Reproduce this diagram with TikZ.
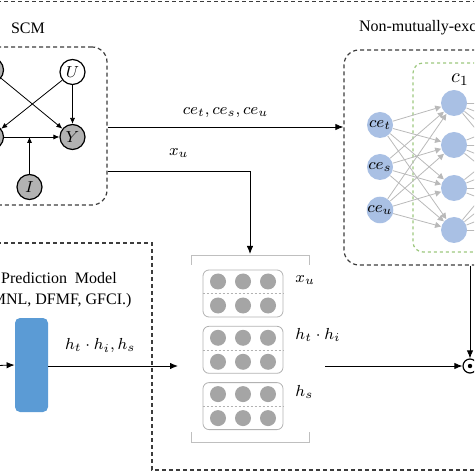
\documentclass[tikz,border=0pt]{standalone}
\usepackage{fontspec}
\setmainfont{Liberation Serif}
\usetikzlibrary{positioning}
\usetikzlibrary{calc}
\usetikzlibrary{arrows.meta}
\usetikzlibrary{fit}
\definecolor{scmgray}{HTML}{B2B2B2}
\definecolor{dotgray}{HTML}{A5A5A5}
\definecolor{unitblue}{HTML}{A9C0E4}
\definecolor{predblue}{HTML}{5B9BD5}
\definecolor{framegray}{HTML}{3C3C3C}
\definecolor{clustgreen}{HTML}{9CC77E}
\tikzset{
	-{Latex[length=4pt,width=3.2pt]},
	semithick,
	every node/.style={font=\fontsize{8}{10.5}\selectfont},
	var/.style={circle, draw, semithick, minimum size=12.5pt, inner sep=0pt},
	obs/.style={var, fill=scmgray},
	unit/.style={circle, fill=unitblue, minimum size=13pt, inner sep=0pt},
	emdot/.style={circle, fill=dotgray, minimum size=8pt, inner sep=0pt},
	dashline/.style={-, framegray, semithick, dash pattern=on 2pt off 1.5pt},
	box/.style={dashline, draw, rounded corners=7.5pt, inner sep=0pt},
	embbox/.style={draw=gray!60, thin, rounded corners=3pt, minimum width=40pt, minimum height=23.5pt},
	fc/.style={gray!55, thin, -{Triangle[length=3pt,width=3pt]}},
	scmarrow/.style={-{Latex[length=3pt,width=2.6pt]}}
}
\begin{document}
\begin{tikzpicture}[x=0.5pt, y=-0.5pt]
\useasboundingbox (0,0) rectangle (474,474);
\clip (0,0) rectangle (474,474);

% frames
\draw[dashline] (-10,1.5) -- (480,1.5);
\draw[dashline] (-10,243) -- (152,243) -- (152,470) -- (480,470);

% SCM
\node (scmtitle) at (28,28) {SCM};
\node (xt) [obs] at (-9,70) {};
\node (u) [var] at (72.5,72) {$U$};
\node (xs) [obs] at (-9,137) {};
\node (y) [obs] at (72.5,137) {$Y$};
\node (i) [obs] at (29.5,187) {$I$};
\coordinate (imid) at (29.5,137);
\path (xt) edge[scmarrow] (y);
\path (u) edge[scmarrow] (xs);
\path (u) edge[scmarrow] (y);
\path (xs) edge[scmarrow] (y);
\path (i) edge[scmarrow] (imid);
\node (scmbox) [box, fit={(-40,47) (107,205)}] {};

% non-mutually-exclusive part
\node (nmtitle) [anchor=west] at (352,28) {Non-mutually-exclusive};
\node (nmbox) [box, fit={(344,50) (540,265)}] {};
\node (clbox) [box, draw=clustgreen, dash pattern=on 1.5pt off 1.5pt, rounded corners=5pt, fit={(413,63) (540,252)}] {};
\node (c1lab) at (460,80) {\fontsize{10}{12}\selectfont $c_1$};
\node (cet) [unit] at (380,125) {$ce_t$};
\node (ces) [unit] at (380,167) {$ce_s$};
\node (ceu) [unit] at (380,210) {$ce_u$};
\foreach \k/\yy in {1/103, 2/145, 3/188, 4/230}
	\node (h\k) [unit] at (454,\yy) {};
\foreach \a in {cet,ces,ceu}
	\foreach \k in {1,...,4}
		\draw[fc] (\a) -- (h\k);
\foreach \k in {1,...,4}
	\foreach \yy in {103,145,188,230}
		\draw[fc, -] (h\k) -- (560,\yy);

% connectors from SCM
\coordinate (celvl) at (0,127);
\coordinate (xulvl) at (0,171);
\coordinate (stacktop) at (250,254);
\draw (scmbox.east |- celvl) -- (nmbox.west |- celvl) node[midway, above=1pt] {$ce_t, ce_s, ce_u$};
\draw (scmbox.east |- xulvl) -| (stacktop) node[pos=0.25, above=3pt] {$x_u$};

% prediction model
\node (predtitle) [align=center] at (59,290) {Prediction\ \ Model\\(MNL, DFMF, GFCI.)};
\node (pred) [fill=predblue, rounded corners=2.5pt, minimum width=16.5pt, minimum height=47pt] at (31.5,365) {};
\coordinate (predin) at (-20,366);
\coordinate (stackin) at (178,366);
\draw (predin) -- (pred.west);
\draw (pred.east |- stackin) -- (stackin) node[pos=0.4, above=3pt] {$h_t\cdot h_i, h_s$};

% embedding stack
\node (emb1) [embbox] at (243,293.5) {};
\node (emb2) [embbox, below=4.25pt of emb1] {};
\node (emb3) [embbox, below=4.25pt of emb2] {};
\foreach \b in {emb1,emb2,emb3} {
	\foreach \dx [count=\c] in {-25,0,25} {
		\node (\b-u\c) [emdot] at ($(\b.center)+(\dx,-12)$) {};
		\node (\b-l\c) [emdot] at ($(\b.center)+(\dx,12)$) {};
	}
	\draw[-, gray!60, very thin, dash pattern=on 1pt off 1pt] (\b.west) -- (\b.east);
}
\draw[-, gray!50] (191,265) -- (191,255) -- (309,255) -- (309,265);
\draw[-, gray!50] (191,432) -- (191,442) -- (309,442) -- (309,432);
\node (xulab) [anchor=west] at ($(emb1.north east)+(5,10)$) {$x_u$};
\node (hthilab) [anchor=west] at ($(emb2.north east)+(5,9)$) {$h_t\cdot h_i$};
\node (hslab) [anchor=west] at ($(emb3.north east)+(5,10)$) {$h_s$};

% product
\node (prod) [circle, draw, semithick, minimum size=7pt, inner sep=0pt] at (470,366) {};
\fill (prod.center) circle (1.1pt);
\coordinate (stackout) at (325,366);
\draw (stackout) -- (prod.west);
\draw (nmbox.south -| prod) -- (prod.north);
\end{tikzpicture}
\end{document}
